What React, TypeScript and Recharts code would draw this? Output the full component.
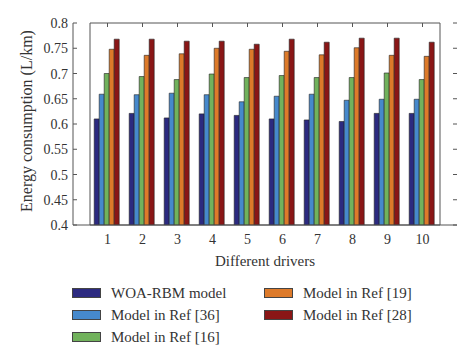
import { BarChart, Bar, XAxis, YAxis, ReferenceArea } from "recharts"

const drivers = ["1", "2", "3", "4", "5", "6", "7", "8", "9", "10"]
const woaRbm = [0.61, 0.621, 0.612, 0.62, 0.617, 0.61, 0.608, 0.605, 0.621, 0.621]
const ref36 = [0.659, 0.658, 0.661, 0.658, 0.644, 0.655, 0.659, 0.647, 0.649, 0.649]
const ref16 = [0.7, 0.694, 0.688, 0.699, 0.692, 0.696, 0.692, 0.692, 0.701, 0.688]
const ref19 = [0.748, 0.736, 0.739, 0.75, 0.748, 0.744, 0.737, 0.751, 0.736, 0.734]
const ref28 = [0.768, 0.768, 0.764, 0.764, 0.758, 0.768, 0.762, 0.77, 0.77, 0.762]
const yTicks = [0.4, 0.45, 0.5, 0.55, 0.6, 0.65, 0.7, 0.75, 0.8]

const series = [
  { key: "woa", name: "WOA-RBM model", color: "#2c2a80" },
  { key: "r36", name: "Model in Ref [36]", color: "#4689cc" },
  { key: "r16", name: "Model in Ref [16]", color: "#71b25c" },
  { key: "r19", name: "Model in Ref [19]", color: "#dd7a2a" },
  { key: "r28", name: "Model in Ref [28]", color: "#8a1616" },
]

const data = drivers.map((d, i) => ({
  driver: d,
  woa: woaRbm[i],
  r36: ref36[i],
  r16: ref16[i],
  r19: ref19[i],
  r28: ref28[i],
}))

const W = 474
const H = 361
const LEFT = 73
const RIGHT = 457
const TOP = 23
const BOTTOM = 225
const FONT = "'Liberation Serif', 'DejaVu Serif', serif"
const AXIS = "#555"

// MATLAB style ticks point into the plot box
const LeftTick = ({ y, payload }: any) => (
  <g>
    <line x1={LEFT} x2={LEFT + 4} y1={y} y2={y} stroke={AXIS} />
    <text x={LEFT - 5} y={y} dy={5} textAnchor="end" fontSize={14} fontFamily={FONT} fill="#333">
      {String(payload.value)}
    </text>
  </g>
)

const RightTick = ({ y }: any) => (
  <line x1={RIGHT} x2={RIGHT - 4} y1={y} y2={y} stroke={AXIS} />
)

const BottomTick = ({ x, payload }: any) => (
  <text x={x} y={BOTTOM + 19} textAnchor="middle" fontSize={14} fontFamily={FONT} fill="#333">
    {payload.value}
  </text>
)

const TopTick = ({ x }: any) => (
  <line x1={x} x2={x} y1={TOP} y2={TOP + 4} stroke={AXIS} />
)

export default function App() {
  return (
    <div style={{ position: "absolute", left: 0, top: 0, width: W, height: H, background: "#fff" }}>
      <BarChart
        width={W}
        height={H}
        data={data}
        margin={{ top: TOP - 1, right: W - RIGHT - 1, bottom: H - BOTTOM - 30, left: 0 }}
        barCategoryGap="12%"
        barGap={0}
      >
        <XAxis
          dataKey="driver"
          height={30}
          padding={{ left: 17, right: 17 }}
          stroke={AXIS}
          tickLine={false}
          tick={<BottomTick />}
          interval={0}
          label={{
            content: () => (
              <text x={265} y={266} textAnchor="middle" fontSize={15} fontFamily={FONT} fill="#333">
                Different drivers
              </text>
            ),
          }}
        />
        <XAxis
          xAxisId="top"
          orientation="top"
          dataKey="driver"
          height={1}
          padding={{ left: 17, right: 17 }}
          axisLine={false}
          tickLine={false}
          tickSize={0}
          tick={<TopTick />}
          interval={0}
        />
        <YAxis
          width={LEFT}
          domain={[0.4, 0.8]}
          ticks={yTicks}
          allowDataOverflow
          stroke={AXIS}
          tickLine={false}
          tick={<LeftTick />}
          label={{
            content: () => (
              <text
                x={26}
                y={121}
                transform="rotate(-90 26 121)"
                textAnchor="middle"
                dominantBaseline="central"
                fontSize={16}
                fontFamily={FONT}
                fill="#333"
              >
                Energy consumption (L/km)
              </text>
            ),
          }}
        />
        <YAxis
          yAxisId="right"
          orientation="right"
          width={1}
          domain={[0.4, 0.8]}
          ticks={yTicks}
          allowDataOverflow
          axisLine={false}
          tickLine={false}
          tickSize={0}
          tick={<RightTick />}
        />
        {/* frame around the plot box */}
        <ReferenceArea y1={0.4} y2={0.8} fill="none" stroke={AXIS} ifOverflow="visible" />
        {series.map((s) => (
          <Bar
            key={s.key}
            dataKey={s.key}
            name={s.name}
            fill={s.color}
            stroke="#222"
            strokeWidth={0.6}
            isAnimationActive={false}
          />
        ))}
        {/* invisible series so the top and right tick axes get drawn */}
        <Bar
          xAxisId="top"
          yAxisId="right"
          dataKey="woa"
          fill="transparent"
          stroke="none"
          legendType="none"
          isAnimationActive={false}
        />
      </BarChart>
      {series.map((s, i) => {
        const col = i < 3 ? 0 : 1
        const row = i < 3 ? i : i - 3
        const left = col === 0 ? 72 : 264
        const cy = 293 + row * 22
        return (
          <div
            key={s.key}
            style={{
              position: "absolute",
              left,
              top: cy - 10,
              height: 20,
              display: "flex",
              alignItems: "center",
              fontFamily: FONT,
              fontSize: 15,
              color: "#333",
              whiteSpace: "nowrap",
            }}
          >
            <span
              style={{
                display: "inline-block",
                width: 27,
                height: 8,
                background: s.color,
                border: "1px solid #444",
                marginRight: 10,
              }}
            />
            {s.name}
          </div>
        )
      })}
    </div>
  )
}
